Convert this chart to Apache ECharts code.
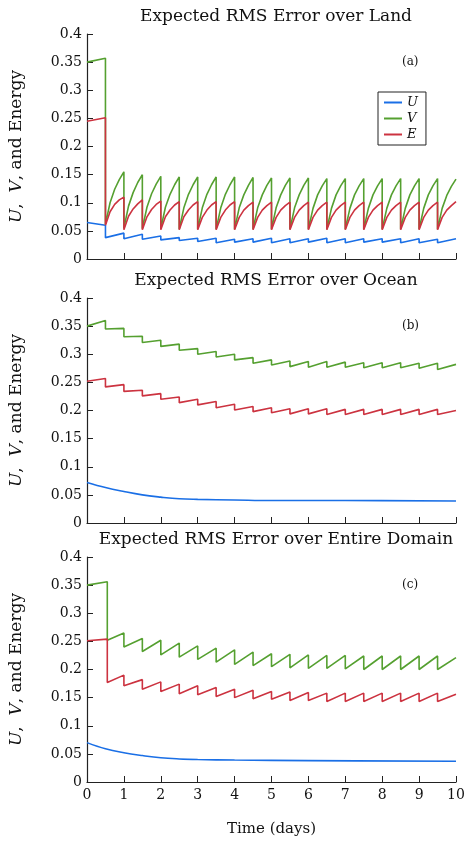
<!DOCTYPE html>
<html><head><meta charset="utf-8">
<script src="https://cdn.jsdelivr.net/npm/echarts@6/dist/echarts.min.js"></script>
<style>html,body{margin:0;padding:0;background:#fff}#c{width:474px;height:847px}</style>
</head><body><div id="c"></div>
<script>
const titles = ['Expected RMS Error over Land','Expected RMS Error over Ocean','Expected RMS Error over Entire Domain'];
const panelLabels = ['(a)','(b)','(c)'];
const xTicks = [0,1,2,3,4,5,6,7,8,9,10];
const jumpTimes = [0.5,1,1.5,2,2.5,3,3.5,4,4.5,5,5.5,6,6.5,7,7.5,8,8.5,9,9.5];
const landVInit = [0.350,0.357];
const landEInit = [0.245,0.251];
const landVSeg = [
 [0.062,0.100,0.124,0.141,0.155],[0.055,0.094,0.118,0.136,0.150],[0.054,0.092,0.116,0.133,0.147],
 [0.054,0.092,0.115,0.132,0.146],[0.053,0.091,0.115,0.132,0.146],[0.053,0.091,0.115,0.132,0.146],
 [0.053,0.091,0.115,0.132,0.146],[0.053,0.091,0.114,0.131,0.145],[0.053,0.091,0.114,0.131,0.144],
 [0.053,0.091,0.114,0.131,0.144],[0.053,0.091,0.114,0.131,0.144],[0.053,0.090,0.114,0.130,0.143],
 [0.053,0.090,0.114,0.130,0.143],[0.053,0.090,0.114,0.130,0.143],[0.053,0.090,0.114,0.130,0.143],
 [0.053,0.090,0.114,0.130,0.143],[0.053,0.090,0.114,0.130,0.143],[0.053,0.090,0.114,0.130,0.143],
 [0.053,0.090,0.113,0.129,0.142]];
const landESeg = [
 [0.060,0.084,0.097,0.105,0.110],[0.052,0.076,0.089,0.098,0.105],[0.052,0.075,0.088,0.097,0.103],
 [0.052,0.075,0.087,0.096,0.102],[0.052,0.075,0.087,0.096,0.102],[0.052,0.074,0.087,0.096,0.102],
 [0.052,0.074,0.087,0.096,0.102],[0.052,0.074,0.087,0.095,0.101],[0.052,0.074,0.087,0.095,0.101],
 [0.052,0.074,0.087,0.095,0.101],[0.052,0.074,0.087,0.095,0.101],[0.052,0.074,0.087,0.095,0.101],
 [0.052,0.074,0.087,0.095,0.101],[0.052,0.074,0.087,0.095,0.101],[0.052,0.074,0.087,0.095,0.101],
 [0.052,0.074,0.087,0.095,0.101],[0.052,0.074,0.087,0.095,0.101],[0.052,0.074,0.087,0.095,0.101],
 [0.052,0.074,0.087,0.095,0.102]];
const landUInit = [0.065,0.060];
const landULow  = [0.038,0.036,0.035,0.034,0.033,0.031,0.029,0.030,0.030,0.029,0.029,0.030,0.029,0.029,0.030,0.030,0.029,0.029,0.029];
const landUHigh = [0.046,0.044,0.041,0.038,0.037,0.037,0.035,0.036,0.037,0.036,0.036,0.037,0.036,0.036,0.036,0.036,0.036,0.035,0.036];
const oceanVStart = 0.350;
const oceanVTop = [0.360,0.346,0.332,0.325,0.318,0.310,0.305,0.300,0.294,0.290,0.288,0.287,0.287,0.286,0.285,0.285,0.285,0.284,0.284];
const oceanVBot = [0.345,0.331,0.321,0.314,0.307,0.300,0.295,0.290,0.284,0.281,0.278,0.277,0.277,0.277,0.276,0.276,0.276,0.275,0.273];
const oceanVEnd = 0.282;
const oceanEStart = 0.252;
const oceanETop = [0.257,0.246,0.236,0.230,0.224,0.220,0.216,0.211,0.207,0.205,0.203,0.203,0.203,0.202,0.202,0.202,0.202,0.202,0.202];
const oceanEBot = [0.242,0.234,0.226,0.220,0.214,0.210,0.205,0.201,0.198,0.196,0.194,0.194,0.193,0.193,0.193,0.193,0.193,0.193,0.193];
const oceanEEnd = 0.200;
const oceanUx = [0,0.5,1,1.5,2,2.5,3,4,5,7,10];
const oceanUy = [0.072,0.063,0.056,0.050,0.046,0.043,0.042,0.041,0.040,0.040,0.039];
const domJumpTimes = [0.55,1,1.5,2,2.5,3,3.5,4,4.5,5,5.5,6,6.5,7,7.5,8,8.5,9,9.5];
const domVStart = 0.350;
const domVTop = [0.356,0.265,0.255,0.252,0.247,0.242,0.238,0.235,0.231,0.228,0.227,0.226,0.225,0.225,0.224,0.224,0.224,0.224,0.224];
const domVBot = [0.252,0.240,0.232,0.226,0.222,0.218,0.213,0.209,0.207,0.205,0.203,0.202,0.202,0.201,0.200,0.200,0.200,0.200,0.200];
const domVEnd = 0.221;
const domEStart = 0.251;
const domETop = [0.254,0.190,0.182,0.178,0.174,0.171,0.168,0.165,0.163,0.161,0.160,0.159,0.158,0.158,0.158,0.158,0.158,0.158,0.158];
const domEBot = [0.177,0.171,0.165,0.161,0.157,0.155,0.152,0.150,0.148,0.147,0.145,0.145,0.143,0.143,0.143,0.143,0.143,0.143,0.143];
const domEEnd = 0.156;
const domUx = [0,0.5,1,1.5,2,2.5,3,4,6,10];
const domUy = [0.070,0.059,0.052,0.047,0.043,0.041,0.040,0.039,0.038,0.037];

function segs(init, seg, times){
  const p=[[0,init[0]],[times[0],init[1]]];
  seg.forEach((s,i)=>{const t=times[i];s.forEach((v,k)=>p.push([t+k*0.125,v]));});
  return p;
}
function teeth(start, top, bot, end, times){
  const p=[[0,start]];
  times.forEach((t,i)=>{p.push([t,top[i]]);p.push([t,bot[i]]);});
  p.push([10,end]);return p;
}
function landU(){
  const p=[[0,landUInit[0]],[0.5,landUInit[1]]];
  jumpTimes.forEach((t,i)=>{p.push([t,landULow[i]]);p.push([t+0.5,landUHigh[i]]);});
  return p;
}
const data = [
  {U:landU(), V:segs(landVInit,landVSeg,jumpTimes), E:segs(landEInit,landESeg,jumpTimes)},
  {U:oceanUx.map((x,i)=>[x,oceanUy[i]]), V:teeth(oceanVStart,oceanVTop,oceanVBot,oceanVEnd,jumpTimes), E:teeth(oceanEStart,oceanETop,oceanEBot,oceanEEnd,jumpTimes)},
  {U:domUx.map((x,i)=>[x,domUy[i]]), V:teeth(domVStart,domVTop,domVBot,domVEnd,domJumpTimes), E:teeth(domEStart,domETop,domEBot,domEEnd,domJumpTimes)}
];
const colors={U:'#1a6fe6',V:'#55a030',E:'#cc3340'};
const font='"DejaVu Serif","Liberation Serif",serif';
const tops=[34,298,557], H=225;
const grid=[],xAxis=[],yAxis=[],series=[],title=[],graphic=[];
tops.forEach((top,i)=>{
  grid.push({left:86,width:370,top:top,height:H});
  xAxis.push({gridIndex:i,type:'value',min:0,max:10,interval:1,
    axisLine:{lineStyle:{color:'#222',width:1.2}},axisTick:{inside:true,length:6,lineStyle:{color:'#222'}},
    splitLine:{show:false},axisLabel:{show:i===2,color:'#111',fontFamily:font,fontSize:14,margin:6},
    name:i===2?'Time (days)':'',nameLocation:'middle',nameGap:40,nameTextStyle:{fontFamily:font,fontSize:15,color:'#111'}});
  yAxis.push({gridIndex:i,type:'value',min:0,max:0.4,interval:0.05,
    axisLine:{show:true,lineStyle:{color:'#222',width:1.2}},axisTick:{show:true,inside:true,length:6,lineStyle:{color:'#222'}},
    splitLine:{show:false},axisLabel:{color:'#111',fontFamily:font,fontSize:14,margin:5},
    name:'{i|U}{n|,  }{i|V}{n|, and Energy}',nameLocation:'middle',nameGap:62,nameRotate:90,
    nameTextStyle:{rich:{i:{fontFamily:font,fontStyle:'italic',fontSize:17,color:'#111'},n:{fontFamily:font,fontSize:17,color:'#111'}}}});
  title.push({text:titles[i],left:271,textAlign:'center',top:top-31,textStyle:{fontFamily:font,fontSize:17,fontWeight:'normal',color:'#111'}});
  graphic.push({type:'text',left:402,top:top+22,style:{text:panelLabels[i],font:'12px '+font,fill:'#111'}});
  ['U','V','E'].forEach(k=>series.push({name:k,type:'line',xAxisIndex:i,yAxisIndex:i,data:data[i][k],
    showSymbol:false,smooth:(k==='U'&&i>0)?0.4:false,lineStyle:{color:colors[k],width:1.6},itemStyle:{color:colors[k]},animation:false}));
});
const chart=echarts.init(document.getElementById('c'));
chart.setOption({
  animation:false,grid,xAxis,yAxis,series,title,graphic,
  legend:{data:['U','V','E'],orient:'vertical',left:378,top:92,itemGap:3,itemWidth:18,itemHeight:2,
    icon:'rect',padding:[4,8,4,6],borderColor:'#222',borderWidth:1,
    textStyle:{fontFamily:font,fontStyle:'italic',fontSize:13,color:'#111'}}
});
</script></body></html>
